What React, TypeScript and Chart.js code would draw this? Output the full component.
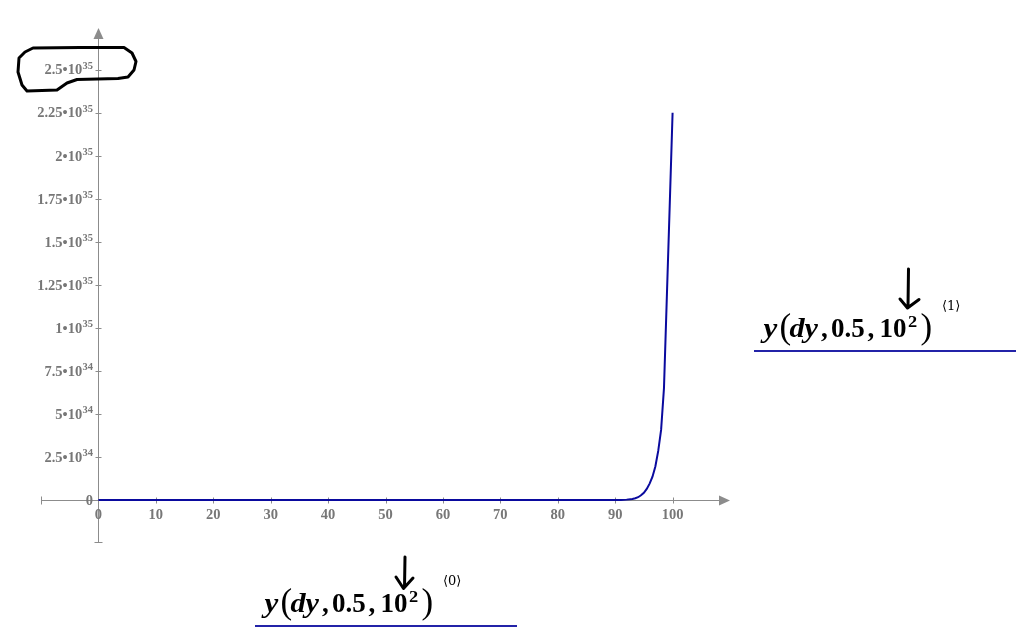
import React, { useEffect, useRef } from "react";
import { Chart, registerables } from "chart.js";

Chart.register(...registerables);

// ---- data ----
const xValues = [0, 10, 20, 30, 40, 50, 60, 70, 80, 90, 91, 92, 93, 93.5, 94, 94.5, 95, 95.5, 96, 96.5, 97, 97.5, 98, 98.5, 99, 99.5, 100];
const yValues = [
  0, 0, 0, 0, 0, 0, 0, 0, 0, 0,
  0.005e34, 0.02e34, 0.06e34, 0.1e34, 0.16e34, 0.27e34, 0.42e34, 0.64e34, 0.95e34, 1.35e34,
  1.95e34, 2.85e34, 4.07e34, 6.5e34, 11.8e34, 17.1e34, 22.5e34,
];

const xTickValues = [0, 10, 20, 30, 40, 50, 60, 70, 80, 90, 100];
const xTickLabels = ["0", "10", "20", "30", "40", "50", "60", "70", "80", "90", "100"];

const yTickValues = [0, 2.5e34, 5e34, 7.5e34, 1e35, 1.25e35, 1.5e35, 1.75e35, 2e35, 2.25e35, 2.5e35];
const yTickMantissas = ["0", "2.5", "5", "7.5", "1", "1.25", "1.5", "1.75", "2", "2.25", "2.5"];
const yTickExponents = ["", "34", "34", "34", "35", "35", "35", "35", "35", "35", "35"];

const xMin = -10;
const xMax = 110;
const yMin = -2.5e34;
const yMax = 2.742e35;

const formulaYIndex = "⟨1⟩";
const formulaXIndex = "⟨0⟩";

// ---- styles ----
const AXIS = "#8c8c8c";
const LABEL = "#777777";
const CURVE = "#0a0a9e";
const UNDERLINE = "#2323a8";
const SERIF = '"Liberation Serif", "Times New Roman", serif';

type Piece = { t: string; x: number; dy: number; font: string; sx?: number };

function formulaPieces(index: string): Piece[] {
  const it = `italic bold 27px ${SERIF}`;
  const bd = `bold 27px ${SERIF}`;
  const par = `35px ${SERIF}`;
  return [
    { t: "y", x: 763.5, dy: 0, font: it, sx: 1.15 },
    { t: "(", x: 779.5, dy: 1, font: par },
    { t: "dy", x: 789.5, dy: 0, font: it, sx: 1.12 },
    { t: ",", x: 821, dy: 0, font: bd },
    { t: "0.5", x: 831, dy: 0, font: bd },
    { t: ",", x: 867.5, dy: 0, font: bd },
    { t: "10", x: 879.5, dy: 0, font: bd },
    { t: "2", x: 908, dy: -10.2, font: `bold 16px ${SERIF}`, sx: 1.15 },
    { t: ")", x: 920.5, dy: 1, font: par },
    { t: index, x: 942, dy: -26.7, font: `13px "DejaVu Serif", serif` },
  ];
}

const blob: [number, number][] = [
  [33, 48], [80, 47.5], [124, 47.5], [132, 53], [136, 61.5], [134, 70], [128, 77], [118, 78.5],
  [77, 79.5], [67, 83], [57, 90], [27, 91], [22, 85], [18, 72], [19, 58], [25, 52], [33, 48],
];

const axesPlugin = {
  id: "mcAxes",
  beforeDatasetsDraw(chart: any) {
    const { ctx, chartArea: a, scales } = chart;
    const xs = scales.x;
    const ys = scales.y;
    const x0 = Math.round(xs.getPixelForValue(0)) + 0.5;
    const y0 = Math.round(ys.getPixelForValue(0)) + 0.5;
    ctx.save();
    ctx.strokeStyle = AXIS;
    ctx.fillStyle = AXIS;
    ctx.lineWidth = 1;
    ctx.beginPath();
    ctx.moveTo(a.left, y0);
    ctx.lineTo(a.right - 6, y0);
    ctx.moveTo(x0, a.bottom);
    ctx.lineTo(x0, a.top + 6);
    ctx.moveTo(a.left + 0.5, y0 - 4);
    ctx.lineTo(a.left + 0.5, y0 + 4);
    ctx.moveTo(x0 - 4, a.bottom - 0.5);
    ctx.lineTo(x0 + 4, a.bottom - 0.5);
    xTickValues.forEach((v) => {
      if (v === 0) return;
      const px = Math.round(xs.getPixelForValue(v)) + 0.5;
      ctx.moveTo(px, y0 - 3);
      ctx.lineTo(px, y0 + 3);
    });
    yTickValues.forEach((v) => {
      if (v === 0) return;
      const py = Math.round(ys.getPixelForValue(v)) + 0.5;
      ctx.moveTo(x0 - 3, py);
      ctx.lineTo(x0 + 3, py);
    });
    ctx.stroke();
    // arrows
    ctx.beginPath();
    ctx.moveTo(a.right, y0);
    ctx.lineTo(a.right - 11, y0 - 5);
    ctx.lineTo(a.right - 11, y0 + 5);
    ctx.closePath();
    ctx.fill();
    ctx.beginPath();
    ctx.moveTo(x0, a.top);
    ctx.lineTo(x0 - 5, a.top + 11);
    ctx.lineTo(x0 + 5, a.top + 11);
    ctx.closePath();
    ctx.fill();

    // x labels
    ctx.fillStyle = LABEL;
    ctx.font = `bold 14.5px ${SERIF}`;
    ctx.textAlign = "center";
    ctx.textBaseline = "alphabetic";
    xTickValues.forEach((v, i) => {
      ctx.fillText(xTickLabels[i], xs.getPixelForValue(v), y0 + 18.8);
    });
    // y labels
    const right = x0 - 5.5;
    ctx.textAlign = "right";
    yTickValues.forEach((v, i) => {
      const py = ys.getPixelForValue(v);
      let r = right;
      const e = yTickExponents[i];
      if (e) {
        ctx.font = `bold 10.5px ${SERIF}`;
        ctx.fillText(e, r, py - 1);
        r -= ctx.measureText(e).width + 0.3;
      }
      ctx.font = `bold 14.5px ${SERIF}`;
      const m = yTickMantissas[i];
      const txt = e ? `${m}•10` : m;
      ctx.fillText(txt, r, py + 4.8);
    });
    ctx.restore();
  },
  afterDraw(chart: any) {
    const { ctx } = chart;
    ctx.save();
    const drawFormula = (index: string, dx: number, base: number, ux0: number, uy: number) => {
      ctx.fillStyle = "#000";
      ctx.textAlign = "left";
      ctx.textBaseline = "alphabetic";
      formulaPieces(index).forEach((p) => {
        ctx.font = p.font;
        const sx = p.sx || 1;
        ctx.save();
        ctx.translate(p.x + dx, base + p.dy);
        ctx.scale(sx, 1);
        ctx.fillText(p.t, 0, 0);
        ctx.restore();
      });
      ctx.fillStyle = UNDERLINE;
      ctx.fillRect(ux0, uy - 1, 262, 2);
    };
    drawFormula(formulaYIndex, 0, 336.7, 754, 351);
    drawFormula(formulaXIndex, -499, 611.7, 255, 626);

    // hand-drawn marks
    ctx.strokeStyle = "#000";
    ctx.lineWidth = 3;
    ctx.lineCap = "round";
    ctx.lineJoin = "round";
    ctx.beginPath();
    ctx.moveTo(908.5, 269);
    ctx.lineTo(908, 307);
    ctx.moveTo(900, 299);
    ctx.lineTo(907.5, 308);
    ctx.lineTo(919, 299.5);
    ctx.moveTo(405, 557);
    ctx.lineTo(404.5, 587.5);
    ctx.moveTo(396, 577);
    ctx.lineTo(403.5, 588.5);
    ctx.lineTo(413, 578);
    ctx.stroke();
    ctx.beginPath();
    blob.forEach(([bx, by], i) => (i === 0 ? ctx.moveTo(bx, by) : ctx.lineTo(bx, by)));
    ctx.stroke();
    ctx.restore();
  },
};

export default function App() {
  const ref = useRef<HTMLCanvasElement | null>(null);
  useEffect(() => {
    if (!ref.current) return;
    const chart = new Chart(ref.current, {
      type: "line",
      data: {
        datasets: [
          {
            data: xValues.map((x, i) => ({ x, y: yValues[i] })),
            borderColor: CURVE,
            borderWidth: 2,
            pointRadius: 0,
            tension: 0,
            fill: false,
          },
        ],
      },
      options: {
        animation: false,
        responsive: false,
        events: [],
        layout: { padding: { left: 41, right: 292, top: 28, bottom: 89 } },
        plugins: {
          legend: { display: false },
          tooltip: { enabled: false },
          title: { display: false },
        },
        scales: {
          x: { type: "linear", min: xMin, max: xMax, display: false },
          y: { type: "linear", min: yMin, max: yMax, display: false },
        },
      },
      plugins: [axesPlugin as any],
    });
    return () => chart.destroy();
  }, []);
  return (
    <div style={{ position: "absolute", left: 0, top: 0, width: 1022, height: 632, background: "#fff" }}>
      <canvas ref={ref} width={1022} height={632} style={{ display: "block", width: 1022, height: 632 }} />
    </div>
  );
}
